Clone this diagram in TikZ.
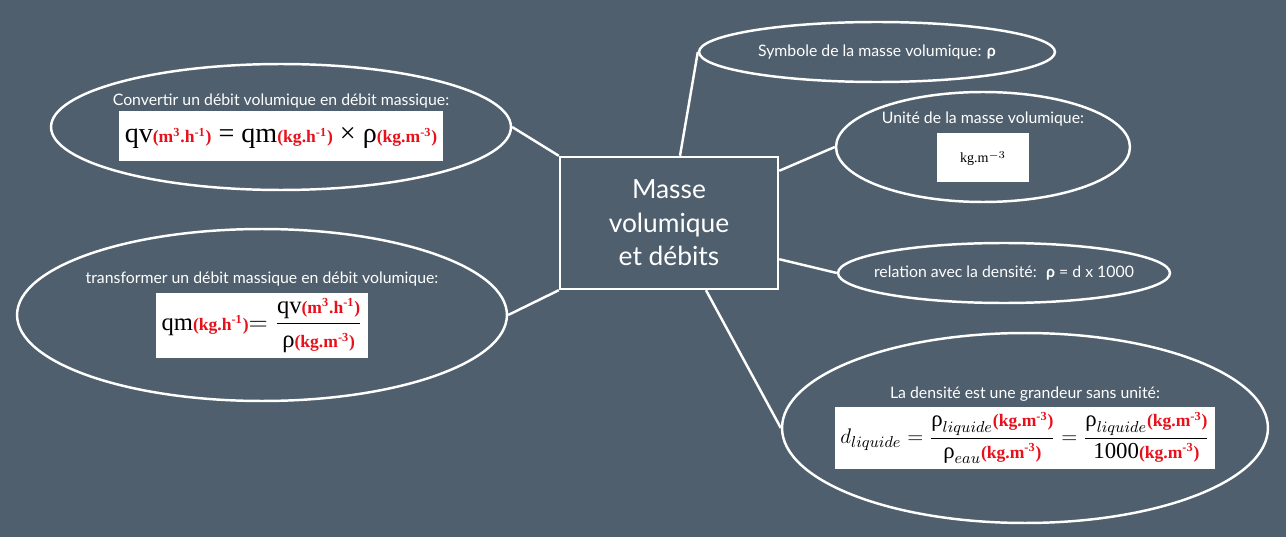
\documentclass[tikz,border=0pt]{standalone}
\usepackage{amsmath}
\usepackage{fontspec}
\setmainfont{Lato}
\newfontfamily\serifm{Liberation Serif}
\usetikzlibrary{shapes.geometric,calc}
\definecolor{fond}{HTML}{4F5F6D}
\definecolor{rouge}{HTML}{E8101A}
\newcommand{\un}[1]{\mbox{\color{rouge}\bfseries\fontsize{10}{11}\selectfont(#1)}}
\newcommand{\blanc}[1]{\colorbox{white}{\color{black}#1}}
\begin{document}
\begin{tikzpicture}[x=0.02cm,y=-0.02cm,
    bulle/.style={ellipse, draw=white, line width=1.4pt, text=white, align=center, inner ysep=0pt, inner xsep=-18pt, font=\fontsize{9}{11}\selectfont},
    lien/.style={draw=white, line width=1.4pt}]
    \fill[fond] (0,0) rectangle (1286,537);
    \node[draw=white, line width=1.4pt, minimum width=4.36cm, minimum height=2.64cm, text=white, align=center,
        font=\fontsize{15}{19}\selectfont] (masse) at (669,223) {Masse\\volumique\\ et débits};

    \node[bulle, minimum width=7.12cm, minimum height=1.2cm] (symb) at (877,52)
        {Symbole de la masse volumique: \textbf{ρ}};
    \node[bulle, minimum width=5.88cm, minimum height=2.2cm] (unite) at (983,147)
        {Unité de la masse volumique:\\[3pt] \blanc{\serifm\fontsize{8}{9}\selectfont\rule[-8pt]{0pt}{22pt}\hspace{10pt}kg.m$^{-3}$\hspace{10pt}}};
    \node[bulle, minimum width=6.64cm, minimum height=1.2cm] (rel) at (1004,273)
        {relation avec la densité:~ \textbf{ρ} = d x 1000};
    \node[bulle, minimum width=9.72cm, minimum height=3.8cm] (dens) at (1025,428)
        {La densité est une grandeur sans unité:\\[2pt]
        \blanc{\serifm\fontsize{13}{15}\selectfont
        $d_{liquide}=\dfrac{\mbox{ρ}_{liquide}\un{kg.m\textsuperscript{-3}}}{\mbox{ρ}_{eau}\un{kg.m\textsuperscript{-3}}}
        =\dfrac{\mbox{ρ}_{liquide}\un{kg.m\textsuperscript{-3}}}{\mbox{1000}\un{kg.m\textsuperscript{-3}}}$}};
    \node[bulle, minimum width=9.2cm, minimum height=2.52cm] (conv) at (281,127)
        {Convertir un débit volumique en débit massique:\\[1pt]
        \blanc{\serifm\fontsize{16}{20}\selectfont\rule[-7pt]{0pt}{22pt}qv\un{m\textsuperscript{3}.h\textsuperscript{-1}} = qm\un{kg.h\textsuperscript{-1}} × ρ\un{kg.m\textsuperscript{-3}}}};
    \node[bulle, minimum width=9.8cm, minimum height=3.44cm] (transf) at (262,315)
        {transformer un débit massique en débit volumique:\\[3pt]
        \blanc{\serifm\fontsize{14}{16}\selectfont
        qm\un{kg.h\textsuperscript{-1}}$=\dfrac{\mbox{qv}\un{m\textsuperscript{3}.h\textsuperscript{-1}}}{\mbox{ρ}\un{kg.m\textsuperscript{-3}}}$}};

    % liens
    \draw[lien] ($(masse.north)+(11,0)$) -- (symb.west);
    \draw[lien] ($(masse.north east)+(0,15)$) -- (unite.west);
    \draw[lien] ($(masse.south east)+(0,-31)$) -- (rel.west);
    \draw[lien] ($(masse.south)+(37,0)$) -- (dens.west);
    \draw[lien] (masse.north west) -- (conv.east);
    \draw[lien] (masse.south west) -- (transf.east);
\end{tikzpicture}
\end{document}
